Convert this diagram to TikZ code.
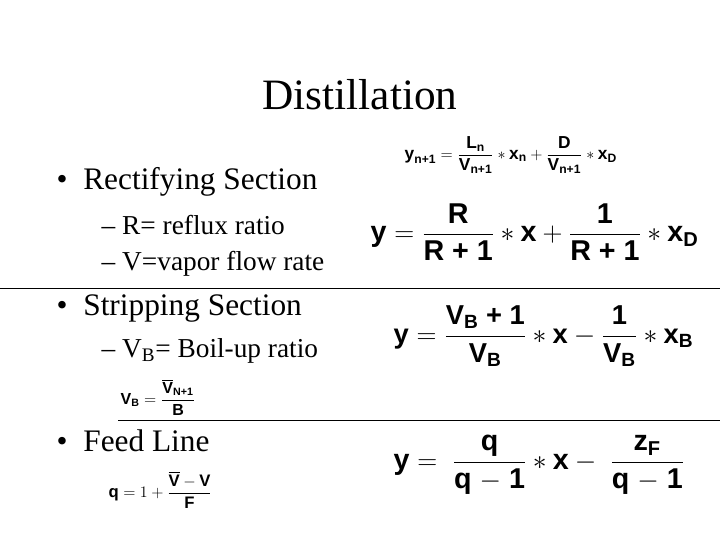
\documentclass[tikz,border=0pt]{standalone}
\usepackage{amsmath}
\usepackage{fontspec}
\setmainfont{Liberation Serif}
\newfontfamily\eqf{Liberation Sans}
\newcommand{\ff}[2]{\dfrac{\text{#1}}{\text{#2}}}
\tikzset{
  px/.style={x=0.75pt,y=-0.75pt},
  ttl/.style={font=\fontsize{32.5}{36}\selectfont},
  bul/.style={anchor=west,font=\fontsize{23.5}{27}\selectfont},
  sub/.style={anchor=west,font=\fontsize{20.5}{24}\selectfont},
  eqn/.style={anchor=west,font=\eqf\bfseries},
  sep/.style={draw=black,line width=0.6pt}
}
\begin{document}
\begin{tikzpicture}[px]
\useasboundingbox (0,0) rectangle (720,540);
\node[ttl] (title) at (360,95) {Distillation};
\node[bul] (b1) at (52,182) {\textbullet\ \ Rectifying Section};
\node[sub] (s1) at (97,225) {-- R= reflux ratio};
\node[sub] (s2) at (97,264) {-- V=vapor flow rate};
\coordinate (l1a) at (0,288); \coordinate (l1b) at (720,288);
\draw[sep] (l1a) -- (l1b);
\node[bul] (b2) at (52,308) {\textbullet\ \ Stripping Section};
\node[sub] (s3) at (97,351) {-- V\textsubscript{B}= Boil-up ratio};
\coordinate (l2a) at (118,420); \coordinate (l2b) at (720,420);
\draw[sep] (l2a) -- (l2b);
\node[bul] (b3) at (52,441) {\textbullet\ \ Feed Line};
% small formulas
\node[eqn,font=\eqf\bfseries\fontsize{12}{13}\selectfont] (vb) at (116,397)
  {$\text{V}_{\text{B}}=\ff{$\overline{\text{V}}_{\text{N+1}}$}{B}$};
\node[eqn,font=\eqf\bfseries\fontsize{12.5}{14}\selectfont] (qq) at (104,490)
  {$\text{q}=1+\ff{$\overline{\text{V}}-\text{V}$}{F}$};
% right formulas
\node[eqn,font=\eqf\bfseries\fontsize{13}{15}\selectfont] (e1) at (400,155)
  {$\text{y}_{\text{n+1}}=\ff{L$_\text{n}$}{V$_\text{n+1}$}\ast\text{x}_\text{n}+\ff{D}{V$_\text{n+1}$}\ast\text{x}_\text{D}$};
\node[eqn,font=\eqf\bfseries\fontsize{21.5}{25}\selectfont] (e2) at (366,232)
  {$\text{y}=\ff{R}{R + 1}\ast\text{x}+\ff{1}{R + 1}\ast\text{x}_\text{D}$};
\node[eqn,font=\eqf\bfseries\fontsize{20.5}{24}\selectfont] (e3) at (389,336)
  {$\text{y}=\ff{V$_\text{B}$ + 1}{V$_\text{B}$}\ast\text{x}-\ff{1}{V$_\text{B}$}\ast\text{x}_\text{B}$};
\node[eqn,font=\eqf\bfseries\fontsize{21.5}{25}\selectfont] (e4) at (389,465)
  {$\text{y}=\;\ff{q}{q $-$ 1}\ast\text{x}-\;\ff{z$_\text{F}$}{q $-$ 1}$};
\end{tikzpicture}
\end{document}
